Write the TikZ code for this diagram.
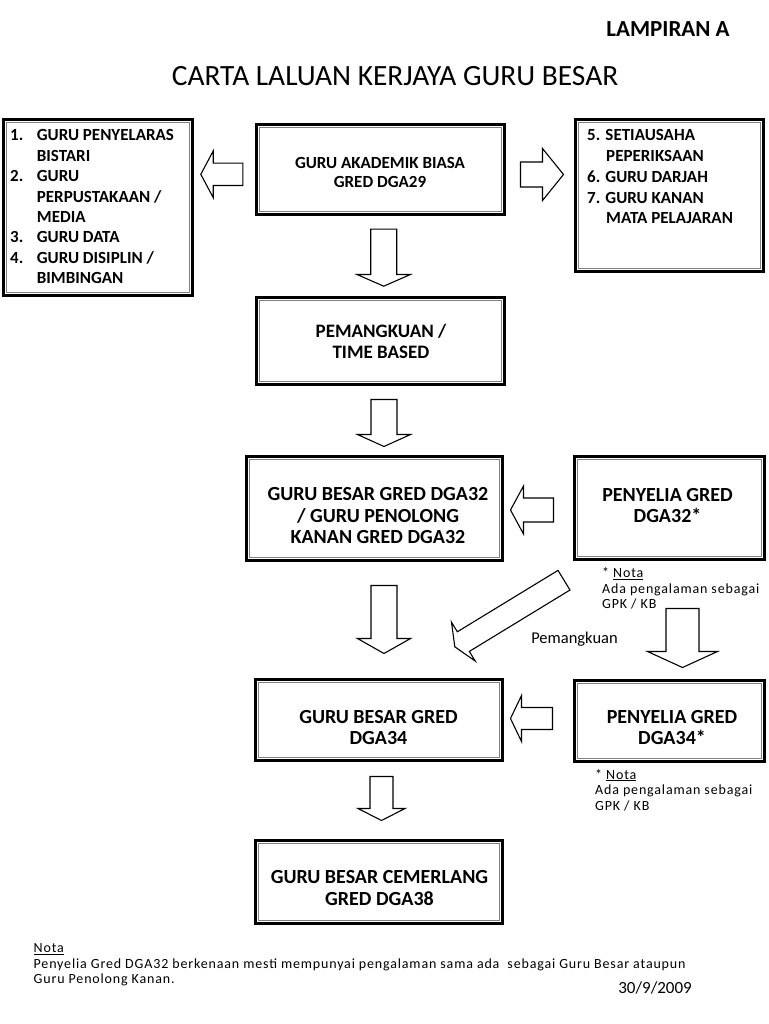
\documentclass[tikz,border=0pt]{standalone}
\usepackage{fontspec}
\setmainfont{Carlito}
\newfontfamily\notefont[LetterSpace=6]{Carlito}
\usetikzlibrary{calc}
\tikzset{
  box/.style={draw=black, line width=3pt, fill=white, inner sep=0pt,
    path picture={\draw[black!50, line width=1.1pt]
      ([shift={(3pt,-3pt)}]path picture bounding box.north west) rectangle
      ([shift={(-3pt,3pt)}]path picture bounding box.south east);}},
  blockarrow/.style args={#1/#2/#3}{draw=black, line width=1.1pt, fill=white,
    to path={
      ($(\tikztostart)!#1pt!90:(\tikztotarget)$)
      -- ($($(\tikztotarget)!#3pt!(\tikztostart)$)!#1pt!-90:(\tikztostart)$)
      -- ($($(\tikztotarget)!#3pt!(\tikztostart)$)!#2pt!-90:(\tikztostart)$)
      -- (\tikztotarget)
      -- ($($(\tikztotarget)!#3pt!(\tikztostart)$)!#2pt!90:(\tikztostart)$)
      -- ($($(\tikztotarget)!#3pt!(\tikztostart)$)!#1pt!90:(\tikztostart)$)
      -- ($(\tikztostart)!#1pt!-90:(\tikztotarget)$)
      -- cycle}},
  smallbold/.style={font=\fontsize{17}{19}\selectfont\bfseries, align=center, inner sep=0pt},
  midbold/.style={font=\fontsize{19}{21}\selectfont\bfseries, align=center, inner sep=0pt},
  bigbold/.style={font=\fontsize{20}{21.5}\selectfont\bfseries, align=center, inner sep=0pt},
  listtxt/.style={font=\fontsize{17}{#1}\selectfont\bfseries, align=left, inner sep=0pt, anchor=north west},
  note/.style={font=\notefont\fontsize{14}{15.5}\selectfont, align=left, inner sep=0pt, anchor=west},
}
\begin{document}
\begin{tikzpicture}[x=1pt,y=-1pt]
\useasboundingbox[fill=white] (0,0) rectangle (768,1024);

% headings
\node[font=\fontsize{23}{26}\selectfont\bfseries, inner sep=0pt] (lamp) at (668,29) {LAMPIRAN A};
\node[font=\fontsize{29.4}{33}\selectfont, inner sep=0pt] (title) at (395,76.5) {CARTA LALUAN KERJAYA GURU BESAR};

% boxes
\node[box, minimum width=189pt, minimum height=176pt] (L) at (98,207.5) {};
\node[box, minimum width=248pt, minimum height=90pt] (A) at (380.5,169.5) {};
\node[box, minimum width=188pt, minimum height=152pt] (R) at (669.5,195.5) {};
\node[box, minimum width=248pt, minimum height=87pt] (P) at (380.5,341) {};
\node[box, minimum width=256pt, minimum height=104pt] (B32) at (374.5,508.5) {};
\node[box, minimum width=190pt, minimum height=103pt] (S32) at (669.5,508) {};
\node[box, minimum width=247pt, minimum height=81pt] (B34) at (379,720) {};
\node[box, minimum width=190pt, minimum height=81pt] (S34) at (669.5,721) {};
\node[box, minimum width=247pt, minimum height=83pt] (B38) at (379,882) {};

% box texts
\node[listtxt=20.4] (Lt) at (10,129.5) {\makebox[26.7pt][l]{1.}GURU PENYELARAS\\\hspace*{26.7pt}BISTARI\\\makebox[26.7pt][l]{2.}GURU\\\hspace*{26.7pt}PERPUSTAKAAN /\\\hspace*{26.7pt}MEDIA\\\makebox[26.7pt][l]{3.}GURU DATA\\\makebox[26.7pt][l]{4.}GURU DISIPLIN /\\\hspace*{26.7pt}BIMBINGAN};
\node[listtxt=20.75] (Rt) at (587,129.5) {5. SETIAUSAHA\\\hspace*{19pt}PEPERIKSAAN\\6. GURU DARJAH\\7. GURU KANAN\\\hspace*{19pt}MATA PELAJARAN};
\node[smallbold] (At) at (380,172) {GURU AKADEMIK BIASA\\GRED DGA29};
\node[midbold] (Pt) at (381,341.5) {PEMANGKUAN /\\TIME BASED};
\node[bigbold] (B32t) at (378,516) {GURU BESAR GRED DGA32\\/ GURU PENOLONG\\KANAN GRED DGA32};
\node[bigbold] (S32t) at (667.5,505.5) {PENYELIA GRED\\DGA32*};
\node[bigbold] (B34t) at (378.5,727.5) {GURU BESAR GRED\\DGA34};
\node[bigbold] (S34t) at (672,727.5) {PENYELIA GRED\\DGA34*};
\node[bigbold] (B38t) at (379.5,888) {GURU BESAR CEMERLANG\\GRED DGA38};

% notes
\node[note] (n1) at (602,588.5) {* \underline{Nota}\\Ada pengalaman sebagai\\GPK / KB};
\node[note] (n2) at (595,790) {* \underline{Nota}\\Ada pengalaman sebagai\\GPK / KB};
\node[note] (n3) at (33.5,965) {\underline{Nota}\\Penyelia Gred DGA32 berkenaan mesti mempunyai pengalaman sama ada\ \ sebagai Guru Besar ataupun\\Guru Penolong Kanan.};
\node[font=\fontsize{16.5}{18}\selectfont, inner sep=0pt] (pem) at (574.5,639) {Pemangkuan};
\node[font=\fontsize{17}{20}\selectfont, inner sep=0pt, anchor=east] (date) at (692,988) {30/9/2009};

% arrow end points
\coordinate (a1) at ($(A.west)+(-12.2,4.8)$);
\coordinate (a2) at ($(L.east |- a1)+(6.8,0)$);
\coordinate (b1) at ($(A.east)+(14.5,5)$);
\coordinate (b2) at ($(R.west |- b1)+(-10.5,0)$);
\coordinate (c1) at ($(A.south)+(3.2,13.2)$);
\coordinate (c2) at ($(P.north -| c1)+(0,-9.8)$);
\coordinate (d1) at ($(P.south)+(3.5,13.5)$);
\coordinate (d2) at ($(B32.north -| d1)+(0,-8.5)$);
\coordinate (e1) at ($(S32.west)+(-19.5,2)$);
\coordinate (e2) at ($(B32.east |- e1)+(6.5,0)$);
\coordinate (f1) at ($(B32.south -| d1)+(0,23.5)$);
\coordinate (f2) at ($(B34.north -| f1)+(0,-24.5)$);
\coordinate (g1) at ($(S34.west)+(-20.5,-2.5)$);
\coordinate (g2) at ($(B34.east |- g1)+(6.5,0)$);
\coordinate (h1) at ($(B34.south)+(2.5,14.5)$);
\coordinate (h2) at ($(B38.north -| h1)+(0,-18.5)$);
\coordinate (i1) at ($(S32.south)+(13,47.5)$);
\coordinate (i2) at ($(S34.north -| i1)+(0,-11.5)$);
\coordinate (j1) at ($(S32.south west)+(-9,19.2)$);
\coordinate (j2) at ($(B34.north east)+(-49.2,-31.2)$);

% block arrows
\draw[blockarrow=11.2/23.3/12.4] (a1) to (a2);
\draw[blockarrow=12.5/26/21] (b1) to (b2);
\draw[blockarrow=13/26.7/11.7] (c1) to (c2);
\draw[blockarrow=13/26.5/12] (d1) to (d2);
\draw[blockarrow=12/24/13] (e1) to (e2);
\draw[blockarrow=13/26.5/15] (f1) to (f2);
\draw[blockarrow=11/23/11] (g1) to (g2);
\draw[blockarrow=11.5/23.5/12] (h1) to (h2);
\draw[blockarrow=16.5/35/16] (i1) to (i2);
\draw[blockarrow=11.5/22.8/10] (j1) to (j2);
\end{tikzpicture}
\end{document}
